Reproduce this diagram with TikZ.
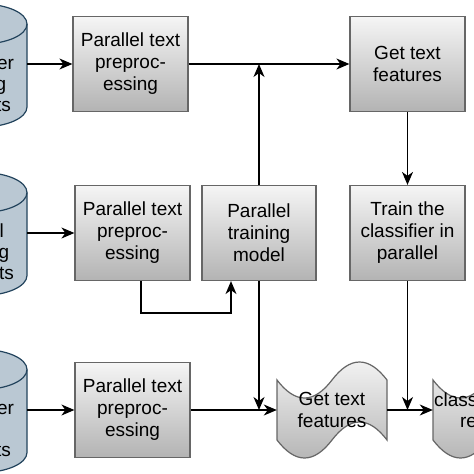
\documentclass[tikz,border=0pt]{standalone}
\usepackage{fontspec}
\setmainfont{Liberation Sans}
\usetikzlibrary{arrows.meta,calc}
\definecolor{boxtop}{HTML}{F5F5F5}
\definecolor{boxbot}{HTML}{B3B3B3}
\definecolor{boxline}{HTML}{666666}
\definecolor{cylfill}{HTML}{BAC8D3}
\definecolor{cylline}{HTML}{23445D}
\newcommand\tapeat[2]{%
 \path[draw=boxline, line width=1.2pt, top color=boxtop, bottom color=boxbot]
  ({#1},{#2+20}) .. controls ({#1+18.33},{#2+44}) and ({#1+36.67},{#2+44}) .. ({#1+55},{#2+20})
  .. controls ({#1+73.33},{#2-4}) and ({#1+91.67},{#2-4}) .. ({#1+110},{#2+20})
  -- ({#1+110},{#2+80})
  .. controls ({#1+91.67},{#2+56}) and ({#1+73.33},{#2+56}) .. ({#1+55},{#2+80})
  .. controls ({#1+36.67},{#2+104}) and ({#1+18.33},{#2+104}) .. ({#1},{#2+80}) -- cycle;}
\newcommand\cylat[2]{%
 \path[draw=cylline, fill=cylfill, line width=1.2pt]
  ({#1-45.4},{#2-41.5}) .. controls ({#1-45.4},{#2-52.55}) and ({#1-25.07},{#2-61.5}) .. ({#1},{#2-61.5})
  .. controls ({#1+25.07},{#2-61.5}) and ({#1+45.4},{#2-52.55}) .. ({#1+45.4},{#2-41.5})
  -- ({#1+45.4},{#2+41.5})
  .. controls ({#1+45.4},{#2+52.55}) and ({#1+25.07},{#2+61.5}) .. ({#1},{#2+61.5})
  .. controls ({#1-25.07},{#2+61.5}) and ({#1-45.4},{#2+52.55}) .. ({#1-45.4},{#2+41.5}) -- cycle;
 \draw[cylline, line width=1.2pt] ({#1-45.4},{#2-41.5}) .. controls ({#1-45.4},{#2-30.45}) and ({#1-25.07},{#2-21.5}) .. ({#1},{#2-21.5})
  .. controls ({#1+25.07},{#2-21.5}) and ({#1+45.4},{#2-30.45}) .. ({#1+45.4},{#2-41.5});}
\begin{document}
\begin{tikzpicture}[x=1pt,y=-1pt,
  procbox/.style={draw=boxline, line width=1.2pt, top color=boxtop, bottom color=boxbot,
    minimum width=115pt, minimum height=95pt, align=center, inner sep=0pt,
    font=\fontsize{19}{22}\selectfont},
  tapetext/.style={minimum width=110pt, minimum height=100pt, align=center, inner sep=0pt,
    font=\fontsize{19}{21.5}\selectfont},
  cyltext/.style={align=center, inner sep=0pt,
    font=\fontsize{19}{21}\selectfont},
  arr/.style={-{Stealth[length=13pt,width=11pt,inset=4pt]}, line width=1.4pt, black}]
\useasboundingbox (0,0) rectangle (474,474);
\fill[white] (0,0) rectangle (474,474);
% cylinders
\cylat{-18.4}{65.5}
\cylat{-18.4}{234}
\cylat{-18.4}{411}
\coordinate (R1) at (27,64);
\coordinate (R2) at (27,233);
\coordinate (R3) at (27,410);
\node[cyltext] (S1) at (-25,83.5) {Classifier\\training\\datasets};
\node[cyltext] (S2) at (-22,252) {Model\\training\\datasets};
\node[cyltext] (S3) at (-25,429) {Classifier\\test\\datasets};
% boxes
\node[procbox] (A) at (130.5,64) {Parallel text\\preproc-\\essing};
\node[procbox] (B) at (407.5,64) {Get text\\features};
\node[procbox] (C) at (132.5,233) {Parallel text\\preproc-\\essing};
\node[procbox, minimum width=114pt] (D) at (259,233) {Parallel\\training\\model};
\node[procbox] (E) at (407.5,233) {Train the\\classifier in\\parallel};
\node[procbox] (F) at (132.5,410) {Parallel text\\preproc-\\essing};
% tapes
\tapeat{277}{360}
\tapeat{433}{360}
\node[tapetext] (G) at (332,410) {Get text\\features};
\node[tapetext] (H) at (488,410) {classification\\results};
% connectors
\draw[arr] (R1) -- (A.west);
\draw[arr] (R2) -- (C.west);
\draw[arr] (R3) -- (F.west);
\draw[arr] (A.east) -- (B.west);
\draw[arr] (D.north) -- (D.north |- A.east);
\draw[arr] (B.south) -- (E.north);
\draw[arr] ([xshift=8.5pt]C.south) -- ++(0,32) -| ([xshift=-28pt]D.south);
\draw[arr] (D.south) -- (D.south |- F.east);
\draw[arr] (F.east) -- (G.west);
\draw[arr] (E.south) -- (E.south |- G.east);
\draw[arr] (G.east) -- (H.west);
\end{tikzpicture}
\end{document}
